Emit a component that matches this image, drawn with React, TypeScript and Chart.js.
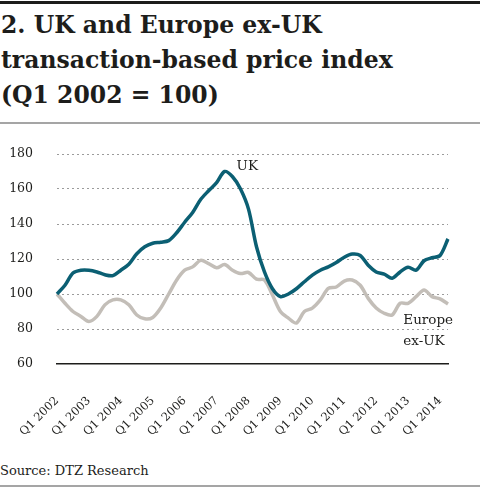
import { Chart, registerables } from "chart.js";
import { useEffect, useRef } from "react";
Chart.register(...registerables);

// quarterly, Q1 2002 .. Q2 2014
const years = [2002, 2003, 2004, 2005, 2006, 2007, 2008, 2009, 2010, 2011, 2012, 2013, 2014];
const quarterNames = ["Q1", "Q2", "Q3", "Q4"];
const quarters: string[] = [];
years.forEach((y) => quarterNames.forEach((q) => quarters.push(`${q} ${y}`)));
quarters.length = 50;

const ukIndex = [
  100, 105, 112, 113.6, 113.6, 112.6, 111, 110.5, 113.6, 117,
  123, 127, 129, 129.6, 130.5, 135, 141, 146.6, 154, 159,
  163.6, 170, 167, 160, 148.5, 127, 112.6, 103, 98.5, 100,
  103, 107, 110.8, 113.6, 115.5, 118, 121, 122.8, 122, 116.4,
  112.6, 111.3, 109, 112.6, 115.3, 113.6, 119, 120.7, 122, 131.5,
];

const europeIndex = [
  100, 94.7, 90, 87.2, 84.3, 87.2, 93.8, 96.6, 96.6, 93.8,
  88, 85.8, 86.6, 92, 100, 108, 113.6, 115.5, 119.2, 117.4,
  115, 116.8, 113.6, 111.7, 112.3, 108.5, 108, 99.4, 90, 86.2,
  83.4, 90, 91.9, 96.6, 103.2, 104, 107.4, 108, 105, 97.5,
  92, 89, 88, 94.7, 94.7, 98.5, 102.3, 98.5, 97.2, 94.3,
];

const SERIF = "'DejaVu Serif', 'Liberation Serif', serif";
const INK = "#1d1d1b";

const lineLabels = {
  id: "lineLabels",
  afterDatasetsDraw(chart: any) {
    const { ctx, scales } = chart;
    ctx.save();
    ctx.fillStyle = INK;
    ctx.font = `13.5px ${SERIF}`;
    ctx.textAlign = "left";
    ctx.textBaseline = "middle";
    ctx.fillText("UK", scales.x.getPixelForValue(22.5), scales.y.getPixelForValue(173));
    const ex = scales.x.getPixelForValue(43.4);
    ctx.fillText("Europe", ex, scales.y.getPixelForValue(85));
    ctx.fillText("ex-UK", ex, scales.y.getPixelForValue(73));
    ctx.restore();
  },
};

const App = () => {
  const ref = useRef<null | HTMLCanvasElement>(null);
  useEffect(() => {
    document.body.style.margin = "0";
    if (!ref.current) return;
    const ctx = ref.current.getContext("2d");
    if (!ctx) throw new Error("Canvas Error: Ctx not available");
    const chart = new Chart(ctx, {
      type: "line",
      data: {
        labels: quarters,
        datasets: [
          {
            label: "UK",
            data: ukIndex,
            borderColor: "#0b5f73",
            borderWidth: 3.5,
            pointRadius: 0,
            tension: 0.3,
          },
          {
            label: "Europe ex-UK",
            data: europeIndex,
            borderColor: "#c3beb8",
            borderWidth: 3.5,
            pointRadius: 0,
            tension: 0.3,
          },
        ],
      },
      options: {
        animation: false,
        responsive: false,
        layout: { padding: { top: 24, right: 32, left: 0, bottom: 0 } },
        plugins: { legend: { display: false }, tooltip: { enabled: false } },
        scales: {
          x: {
            offset: false,
            grid: { display: false, drawTicks: false },
            border: { display: true, color: INK, width: 1.5 },
            ticks: {
              autoSkip: false,
              maxRotation: 45,
              minRotation: 45,
              padding: 30,
              color: INK,
              font: { family: SERIF, size: 11.5 },
              callback: (_v: any, i: number) => (i % 4 === 0 ? quarters[i] : ""),
            },
            afterFit: (s: any) => {
              s.height = 76;
              s.paddingLeft = 0;
              s.paddingRight = 0;
            },
          },
          y: {
            min: 60,
            max: 180,
            ticks: { stepSize: 20, padding: 24, color: INK, font: { family: SERIF, size: 12.5 } },
            grid: {
              drawTicks: false,
              lineWidth: 1,
              color: (c: any) => (c.tick && c.tick.value === 60 ? "rgba(0,0,0,0)" : "#9b9b9b"),
            },
            border: { display: false, dash: [2, 3] },
            afterFit: (s: any) => {
              s.width = 57;
              s.paddingTop = 0;
              s.paddingBottom = 0;
            },
          },
        },
      },
      plugins: [lineLabels],
    });
    return () => chart.destroy();
  }, []);

  return (
    <div
      style={{
        position: "relative",
        width: 480,
        height: 487,
        overflow: "hidden",
        fontFamily: SERIF,
        color: INK,
        background: "#fff",
      }}
    >
      <div style={{ position: "absolute", top: 1, left: 0, width: 480, height: 3, background: INK }} />
      <div
        style={{
          position: "absolute",
          top: 8,
          left: 1,
          fontSize: 23.5,
          fontWeight: "bold",
          lineHeight: "35px",
          whiteSpace: "nowrap",
        }}
      >
        2. UK and Europe ex-UK
        <br />
        transaction-based price index
        <br />
        (Q1 2002 = 100)
      </div>
      <div style={{ position: "absolute", top: 122, left: 0, width: 480, height: 2, background: "#a5a5a5" }} />
      <canvas ref={ref} width={480} height={310} style={{ position: "absolute", top: 130, left: 0 }}></canvas>
      <div style={{ position: "absolute", top: 463, left: 0, fontSize: 13 }}>Source: DTZ Research</div>
      <div style={{ position: "absolute", top: 485, left: 0, width: 480, height: 2, background: "#a5a5a5" }} />
    </div>
  );
};

export default App;
